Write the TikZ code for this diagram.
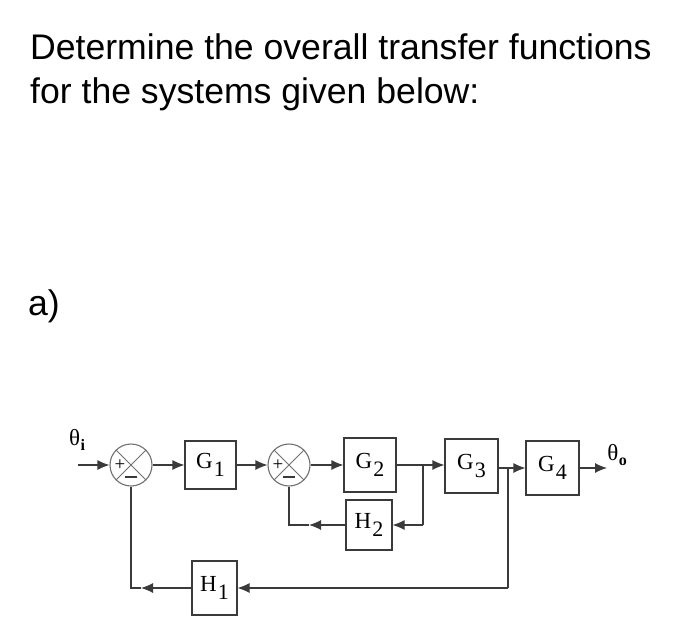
\documentclass[tikz,border=0pt]{standalone}
\usepackage{fontspec}
\setmainfont{Liberation Serif}
\newfontfamily\titlefont{Liberation Sans}
\usetikzlibrary{arrows.meta}
\definecolor{ln}{HTML}{3A3A3A}
\definecolor{cg}{HTML}{707070}
\newcommand\blbl[2]{#1\kern1pt\raisebox{-0.38em}{\fontsize{22}{22}\selectfont #2}}
\newcommand\thl[1]{θ\kern0.5pt\raisebox{-0.25em}{\fontsize{16}{16}\selectfont\bfseries #1}}
\begin{document}
\begin{tikzpicture}[x=1pt,y=-1pt,
  title/.style={anchor=base west,inner sep=0pt,font=\titlefont\fontsize{35.6}{42}\selectfont},
  blk/.style={draw=ln,line width=1.1pt,inner sep=0pt,font=\fontsize{23}{23}\selectfont},
  summ/.style={draw=cg,line width=1.1pt,circle,minimum size=42pt,inner sep=0pt},
  wire/.style={draw=ln,line width=1.1pt},
  arr/.style={wire,-{Latex[length=12pt,width=10pt]}},
  lab/.style={inner sep=0pt,font=\fontsize{23}{23}\selectfont}]
\useasboundingbox (0,0) rectangle (700,624);
\fill[white] (0,0) rectangle (700,624);
% title
\node[title] (t1) at (30,59) {Determine the overall transfer functions};
\node[title] (t2) at (30,103) {for the systems given below:};
\node[title] (ta) at (28,315) {a)};
% summing junctions
\foreach \n/\x in {s1/131,s2/289}{
  \node[summ] (\n) at (\x,465) {};
  \draw[cg,line width=1pt] (\n.north west) -- (\n.south east) (\n.north east) -- (\n.south west);
  \node[inner sep=0pt,font=\fontsize{19}{19}\selectfont] at ([xshift=-11pt]\n.center) {+};
  \draw[ln,line width=1.3pt] ([xshift=-6pt,yshift=-12pt]\n.center) -- ([xshift=6pt,yshift=-12pt]\n.center);
}
% blocks
\node[blk,minimum width=51pt,minimum height=48pt] (G1) at (210.5,465) {\blbl{G}{1}};
\node[blk,minimum width=52pt,minimum height=54pt] (G2) at (370,465) {\blbl{G}{2}};
\node[blk,minimum width=53pt,minimum height=54pt] (G3) at (471.5,466) {\blbl{G}{3}};
\node[blk,minimum width=53pt,minimum height=54pt] (G4) at (552.5,468) {\blbl{G}{4}};
\node[blk,minimum width=46pt,minimum height=50pt] (H2) at (369,525) {\blbl{H}{2}};
\node[blk,minimum width=45pt,minimum height=54pt] (H1) at (214.5,588) {\blbl{H}{1}};
% labels
\node[lab] (thi) at (77,440) {\thl{i}};
\node[lab] (tho) at (617,455) {\thl{o}};
% coordinates
\coordinate (in) at (78,465);
\coordinate (b1) at (423,465);
\coordinate (b2) at (508,468);
\coordinate (out) at (607,468);
\coordinate (c1) at (423,525);
\coordinate (m2) at (309,525);
\coordinate (k2) at (289,525);
\coordinate (c2) at (508,588);
\coordinate (m1) at (141,588);
\coordinate (k1) at (131,588);
% forward path
\draw[arr] (in) -- (s1);
\draw[arr] (s1) -- (G1);
\draw[arr] (G1) -- (s2);
\draw[arr] (s2) -- (G2);
\draw[wire] (G2.east) -- (b1);
\draw[arr] (b1) -- (b1 -| G3.west);
\draw[wire] (G3.east |- b2) -- (b2);
\draw[arr] (b2) -- (G4.west);
\draw[arr] (G4.east) -- (out);
% inner feedback
\draw[wire] (b1) -- (c1);
\draw[arr] (c1) -- (H2.east);
\draw[arr] (H2.west) -- (m2);
\draw[wire] (m2) -- (k2) -- (s2.south);
% outer feedback
\draw[wire] (b2) -- (c2);
\draw[arr] (c2) -- (H1.east);
\draw[arr] (H1.west) -- (m1);
\draw[wire] (m1) -- (k1) -- (s1.south);
\end{tikzpicture}
\end{document}
